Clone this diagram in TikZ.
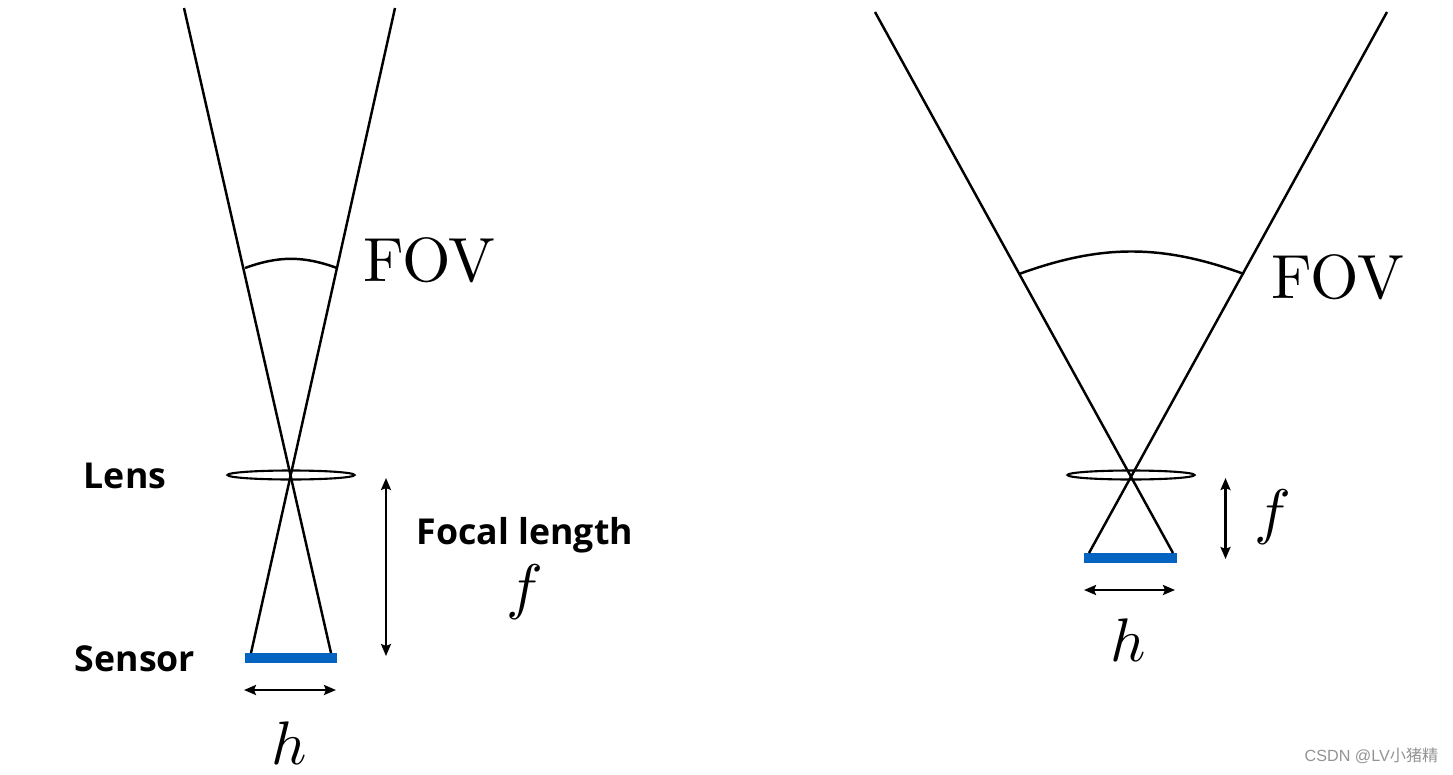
\documentclass[tikz,border=0pt]{standalone}
\usepackage{amsmath}
\usepackage{fontspec}
\usepackage{tikz}
\usepackage{xcolor}
\usetikzlibrary{shapes.geometric, arrows.meta}
\newfontfamily\labelfont{Open Sans}
\newfontfamily\markfont{Liberation Sans}
\newfontfamily\cjk{Noto Sans CJK SC}
\definecolor{sensorblue}{HTML}{0563C1}

\begin{document}
\begin{tikzpicture}[
            x=0.02cm, y=-0.02cm,
            ray/.style={draw=black, line width=1.4pt},
            lens/.style={ellipse, draw=black, line width=1.2pt, minimum width=2.54cm, minimum height=0.18cm, inner sep=0pt},
            sensor/.style={rectangle, fill=sensorblue, minimum width=1.86cm, minimum height=0.2cm, inner sep=0pt},
            dimline/.style={{Stealth[length=0.24cm, width=0.2cm, inset=0.04cm]}-{Stealth[length=0.24cm, width=0.2cm, inset=0.04cm]}, draw=black, line width=1.3pt},
            callout/.style={font=\labelfont\bfseries\fontsize{20.3}{24}\selectfont},
            symbol/.style={scale=3.5},
            fovtext/.style={scale=3.55}
        ]
            \useasboundingbox (0,0) rectangle (1453,774);

% Narrow field of view
            \node[lens] (lens_a) at (291,475) {};
            \node[sensor] (sensor_a) at (291,658) {};
            \coordinate (ray_a_l) at (184,8);
            \coordinate (ray_a_r) at (395,8);
            \coordinate (end_a_l) at (251,653);
            \coordinate (end_a_r) at (331,653);
            \draw[ray] (ray_a_l) -- (end_a_r);
            \draw[ray] (ray_a_r) -- (end_a_l);
            \coordinate (arc_a_l) at (245,268);
            \coordinate (arc_a_r) at (337,268);
            \draw[ray] (arc_a_l) to[bend left=20] (arc_a_r);
            \coordinate (focal_a_t) at (386,478);
            \coordinate (focal_a_b) at (386,656);
            \draw[dimline] (focal_a_t) -- (focal_a_b);
            \coordinate (width_a_l) at (244,690);
            \coordinate (width_a_r) at (336,690);
            \draw[dimline] (width_a_l) -- (width_a_r);
            \node[fovtext] (fov_a) at (429.5,260) {FOV};
            \node[callout] (lens_label) at (125,476) {Lens};
            \node[callout] (sensor_label) at (135,659) {Sensor};
            \node[callout] (focal_label) at (525,535) {Focal length};
            \node[symbol] (f_a) at (525,592) {$f$};
            \node[symbol] (h_a) at (289,743) {$h$};

% Wide field of view
            \node[lens] (lens_b) at (1131,475) {};
            \node[sensor] (sensor_b) at (1130.5,558) {};
            \coordinate (ray_b_l) at (875,12);
            \coordinate (ray_b_r) at (1387,12);
            \coordinate (end_b_l) at (1089,553);
            \coordinate (end_b_r) at (1173,553);
            \draw[ray] (ray_b_l) -- (end_b_r);
            \draw[ray] (ray_b_r) -- (end_b_l);
            \coordinate (arc_b_l) at (1019,274);
            \coordinate (arc_b_r) at (1244,274);
            \draw[ray] (arc_b_l) to[bend left=20] (arc_b_r);
            \coordinate (focal_b_t) at (1225.5,478);
            \coordinate (focal_b_b) at (1225.5,559);
            \draw[dimline] (focal_b_t) -- (focal_b_b);
            \coordinate (width_b_l) at (1084,590);
            \coordinate (width_b_r) at (1175,590);
            \draw[dimline] (width_b_l) -- (width_b_r);
            \node[fovtext] (fov_b) at (1337.5,277) {FOV};
            \node[symbol] (f_b) at (1273,517) {$f$};
            \node[symbol] (h_b) at (1128,640) {$h$};

% Watermark
            \node[text=gray!85, font=\markfont\fontsize{9.2}{11}\selectfont] (watermark) at (1371.5,756) {CSDN @LV{\cjk 小猪精}};

        \end{tikzpicture}
\end{document}
